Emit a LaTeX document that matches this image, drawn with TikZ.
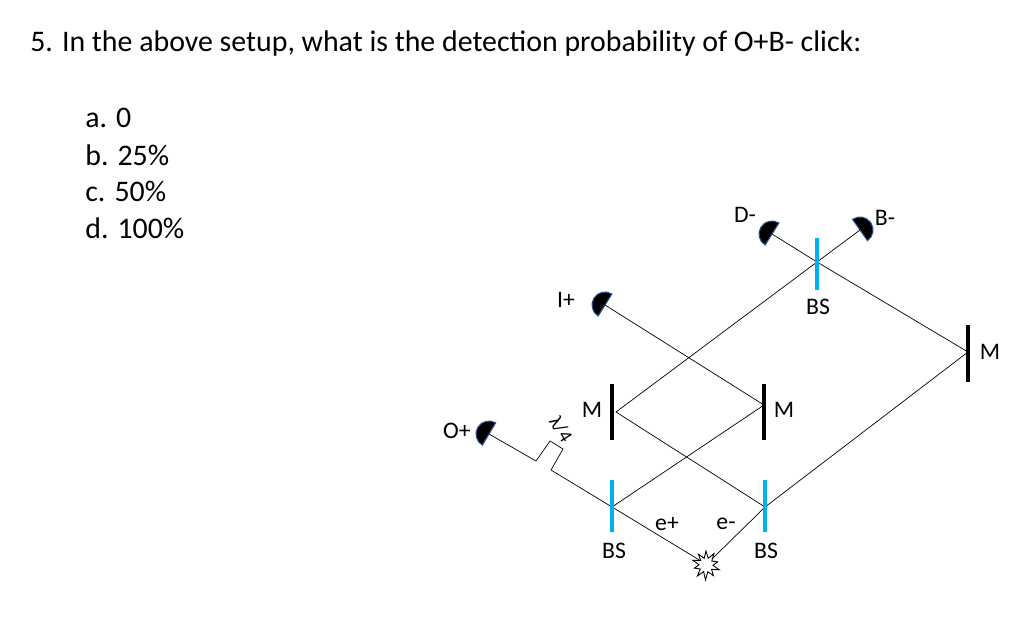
\documentclass[tikz,border=0pt]{standalone}
\usepackage{fontspec}
\setmainfont{Carlito}
\begin{document}
\begin{tikzpicture}[x=0.02cm,y=0.02cm,
  beam/.style={line width=0.4pt,black},
  bsplit/.style={line width=2.2pt,draw={rgb,255:red,0;green,176;blue,240}},
  mirror/.style={line width=2.2pt,black},
  lbl/.style={font=\fontsize{13.5}{15}\selectfont,inner sep=0pt},
  q/.style={font=\fontsize{17}{20}\selectfont,anchor=west,inner sep=0pt}]
\useasboundingbox (0,-629) rectangle (1024,0);
\node[q] (title) at (30,-44) {5. In the above setup, what is the detection probability of O+B- click:};
\node[q] (oa) at (85,-118) {a. 0};
\node[q] (ob) at (85,-155) {b. 25\%};
\node[q] (oc) at (85,-191) {c. 50\%};
\node[q] (od) at (85,-228) {d. 100\%};
% coordinates
\coordinate (bs1) at (612,-507);
\coordinate (bs2) at (765,-507);
\coordinate (bs3) at (817,-262);
\coordinate (ml) at (616,-412);
\coordinate (mm) at (764,-405);
\coordinate (mr) at (968,-352);
\coordinate (ex) at (706,-565);
\coordinate (w1) at (536,-461);
\coordinate (w2) at (550,-441);
\coordinate (w3) at (563,-449);
\coordinate (w4) at (551,-470);
% detectors
\newcommand{\detector}[3]{\filldraw[black,draw={rgb,255:red,47;green,82;blue,143},line width=0.6pt] (#1,#2) ++(#3+90:13) arc[start angle=#3+90,end angle=#3+270,radius=13] -- cycle;}
\coordinate (dO) at (489,-434);
\coordinate (dI) at (605,-305);
\coordinate (dD) at (772,-234);
\coordinate (dB) at (860,-230);
\detector{489}{-434}{-31}
\detector{605}{-305}{-32}
\detector{772}{-234}{-32}
\detector{860}{-230}{-145}
% beams
\draw[beam] (dO) -- (w1) -- (w2) -- (w3) -- (w4) -- (bs1);
\draw[beam] (bs1) -- (mm) -- (dI);
\draw[beam] (bs1) -- (701,-561);
\draw[beam] (bs2) -- (711,-560);
\draw[beam] (bs2) -- (ml) -- (bs3);
\draw[beam] (bs2) -- (mr) -- (bs3);
\draw[beam] (bs3) -- (dD);
\draw[beam] (bs3) -- (dB);
% optics
\draw[bsplit] (612,-480) -- (612,-532);
\draw[bsplit] (765,-480) -- (765,-532);
\draw[bsplit] (817,-238) -- (817,-290);
\draw[mirror] (612,-384) -- (612,-440);
\draw[mirror] (764,-384) -- (764,-440);
\draw[mirror] (968,-325) -- (968,-382);
% explosion
\filldraw[fill=white,draw=black,line width=0.5pt] (ex)
 +(90:14) -- +(105:7) -- +(125:13) -- +(140:7) -- +(160:14) -- +(178:7) -- +(195:12) -- +(215:7)
 -- +(232:14) -- +(250:7) -- +(268:15) -- +(285:7) -- +(305:13) -- +(322:7) -- +(340:14)
 -- +(358:7) -- +(15:12) -- +(35:7) -- +(55:14) -- +(72:7) -- cycle;
% labels
\node[lbl] (lI) at (566,-300) {I+};
\node[lbl] (lO) at (457,-431) {O+};
\node[lbl] (lM1) at (592,-410) {M};
\node[lbl] (lM2) at (784,-410) {M};
\node[lbl] (lM3) at (990,-352) {M};
\node[lbl] (lB1) at (614,-551) {BS};
\node[lbl] (lB2) at (766,-551) {BS};
\node[lbl] (lB3) at (818,-307) {BS};
\node[lbl] (lD) at (745,-215) {D-};
\node[lbl] (lBm) at (885,-218) {B-};
\node[lbl] (le1) at (667,-524) {e+};
\node[lbl] (le2) at (726,-524) {e-};
\node[font=\fontsize{11}{12}\selectfont,rotate=-58,inner sep=0pt] (lq) at (561,-429) {λ/4};
\end{tikzpicture}
\end{document}
